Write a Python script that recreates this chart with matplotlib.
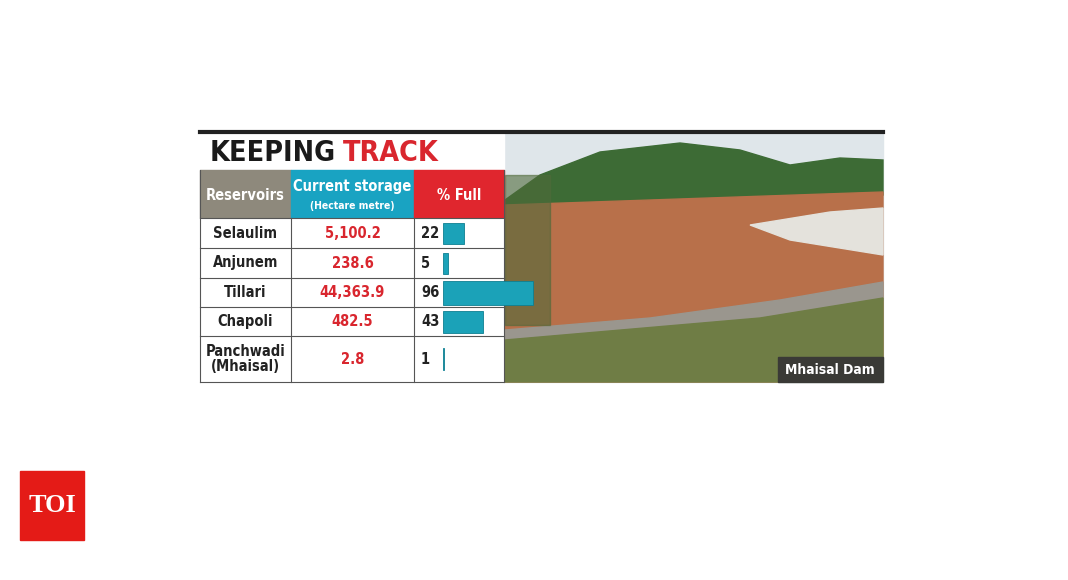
import matplotlib
matplotlib.use("Agg")
import matplotlib.pyplot as plt
from matplotlib.patches import Rectangle, Polygon

plt.rcParams["font.family"] = ["DejaVu Sans", "Liberation Sans"]
plt.rcParams["font.stretch"] = "condensed"

reservoirs = ["Selaulim", "Anjunem", "Tillari", "Chapoli", "Panchwadi\n(Mhaisal)"]
storage = ["5,100.2", "238.6", "44,363.9", "482.5", "2.8"]
pct_full = [22, 5, 96, 43, 1]

W, H = 1068, 580
fig = plt.figure(figsize=(W / 100, H / 100), dpi=100)
ax = fig.add_axes([0, 0, 1, 1])
ax.set_xlim(0, W)
ax.set_ylim(H, 0)
ax.axis("off")

# photo (stylised)
ax.add_patch(Rectangle((505, 134), 378, 248, color="#dfe6ea"))
ax.add_patch(Polygon([(505, 200), (540, 175), (600, 152), (680, 143), (740, 150),
                      (790, 165), (840, 158), (883, 160), (883, 195), (505, 210)],
                     color="#3d6b35"))
ax.add_patch(Polygon([(505, 205), (883, 192), (883, 382), (505, 382)], color="#b8704a"))
ax.add_patch(Polygon([(750, 225), (830, 212), (883, 208), (883, 255), (790, 240)],
                     color="#e4e2dc"))
ax.add_patch(Polygon([(505, 330), (650, 318), (780, 300), (883, 282), (883, 300),
                      (760, 320), (505, 345)], color="#9a968e"))
ax.add_patch(Polygon([(505, 340), (760, 318), (883, 298), (883, 382), (505, 382)],
                     color="#6f7d45"))
ax.add_patch(Rectangle((505, 175), 45, 150, color="#4f6a3a", alpha=0.6))
ax.add_patch(Rectangle((778, 357), 105, 25, color="#3a3a36"))
ax.text(830, 370, "Mhaisal Dam", color="white", fontsize=10, fontweight="bold",
        ha="center", va="center")

# title
ax.plot([200, 883], [132, 132], color="#222222", lw=3)
ax.add_patch(Rectangle((200, 134), 304, 36, color="white"))
ax.text(210, 153, "KEEPING", fontsize=20.5, fontweight="heavy", color="#1a1a1a",
        va="center", ha="left")
ax.text(343, 153, "TRACK", fontsize=20.5, fontweight="heavy", color="#d9262e",
        va="center", ha="left")

# header
cols = [200, 291, 414, 504]
ax.add_patch(Rectangle((200, 170), 91, 48, color="#8e897c"))
ax.add_patch(Rectangle((291, 170), 123, 48, color="#19a3c2"))
ax.add_patch(Rectangle((414, 170), 90, 48, color="#e0262e"))
ax.text(245.5, 196, "Reservoirs", color="white", fontsize=10.5, fontweight="bold",
        ha="center", va="center")
ax.text(352.5, 187, "Current storage", color="white", fontsize=10.5, fontweight="bold",
        ha="center", va="center")
ax.text(352.5, 206, "(Hectare metre)", color="white", fontsize=7.5, fontweight="bold",
        ha="center", va="center")
ax.text(459, 196, "% Full", color="white", fontsize=10.5, fontweight="bold",
        ha="center", va="center")

# body
rows = [218, 248, 278, 307, 336, 382]
ax.add_patch(Rectangle((200, 218), 304, 164, facecolor="white", edgecolor="none"))
for y in rows:
    ax.plot([200, 504], [y, y], color="#555555", lw=0.8)
for x in cols:
    ax.plot([x, x], [170 if x in (200, 504) else 218, 382], color="#555555", lw=0.8)
centers = []
for i in range(len(reservoirs)):
    yc = (rows[i] + rows[i + 1]) / 2
    centers.append(yc)
    ax.text(245.5, yc, reservoirs[i], fontsize=10.5, fontweight="bold", color="#222222",
            ha="center", va="center", linespacing=1.0)
    ax.text(352.5, yc, storage[i], fontsize=10.5, fontweight="bold", color="#d9262e",
            ha="center", va="center")
    ax.text(421, yc, str(pct_full[i]), fontsize=10.5, fontweight="bold", color="#222222",
            ha="left", va="center")

# bars on their own x scale (0-100 %), y in the table's pixel rows
bx = fig.add_axes([443 / W, 1 - 382 / H, 94 / W, (382 - 218) / H])
bx.set_xlim(0, 100)
bx.set_ylim(382, 218)
bx.axis("off")
bx.patch.set_alpha(0)
heights = [21, 21, 24, 22, 22]
bx.barh(centers, pct_full, height=heights, color="#1ba2b8",
        edgecolor="#0e7f92", lw=0.6)

# TOI logo
ax.add_patch(Rectangle((20, 471), 64, 69, color="#e41b17"))
ax.text(52, 505, "TOI", color="white", fontsize=19, fontweight="bold",
        family=["Liberation Serif", "DejaVu Serif"], ha="center", va="center")

fig.savefig("out.png", dpi=100)
